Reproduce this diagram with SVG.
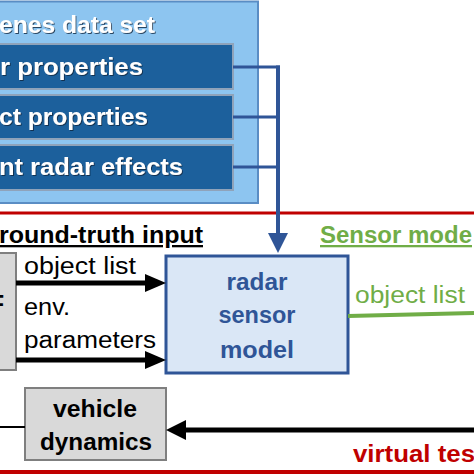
<svg xmlns="http://www.w3.org/2000/svg" width="474" height="474" viewBox="0 0 474 474">
<defs>
<filter id="sh" x="-5%" y="-20%" width="110%" height="140%">
<feDropShadow dx="1" dy="1" stdDeviation="0.6" flood-color="#0a2540" flood-opacity="0.8"/>
</filter>
</defs>
<style>
.f{font-family:"Liberation Sans",Arial,sans-serif}
.wh{fill:#ffffff;font-weight:bold;font-size:23px}
.bk{fill:#000000;font-size:23px}
.bkb{fill:#000000;font-weight:bold;font-size:23px}
.rb{fill:#2F5597;font-weight:bold;font-size:24px}
.outer{fill:#8DC5F0;stroke:#5A8DC4;stroke-width:2}
.inner{fill:#1C609C;stroke:#8FA3BA;stroke-width:2}
.gray{fill:#D9D9D9;stroke:#7F7F7F;stroke-width:2}
.blue{stroke:#2F5597;fill:none}
.blk{stroke:#000000;fill:none}
</style>

<g id="scenes-data-set">
<rect class="outer" x="-10" y="1.5" width="268" height="201.5"/>
<text class="f wh" x="-1" y="33" textLength="156" lengthAdjust="spacingAndGlyphs" filter="url(#sh)">enes data set</text>
</g>
<g id="sensor-properties">
<rect class="inner" x="-10" y="44" width="243" height="45"/>
<text class="f wh" x="0" y="75" textLength="143" lengthAdjust="spacingAndGlyphs" filter="url(#sh)">r properties</text>
</g>
<g id="object-properties">
<rect class="inner" x="-10" y="95" width="243" height="44"/>
<text class="f wh" x="-1" y="125" textLength="149" lengthAdjust="spacingAndGlyphs" filter="url(#sh)">ct properties</text>
</g>
<g id="radar-effects">
<rect class="inner" x="-10" y="145" width="243" height="45"/>
<text class="f wh" x="-1" y="175" textLength="184" lengthAdjust="spacingAndGlyphs" filter="url(#sh)">nt radar effects</text>
</g>

<g id="environment">
<rect class="gray" x="-10" y="253" width="26" height="117"/>
<text class="f bkb" x="-10" y="312" font-size="26px">F</text>
</g>

<g id="radar-sensor-model">
<rect x="166" y="256" width="182" height="117" fill="#DAE7F6" stroke="#2F5597" stroke-width="3"/>
<text class="f rb" x="257" y="290" text-anchor="middle" textLength="61" lengthAdjust="spacingAndGlyphs">radar</text>
<text class="f rb" x="257" y="323" text-anchor="middle" textLength="77" lengthAdjust="spacingAndGlyphs">sensor</text>
<text class="f rb" x="257" y="358" text-anchor="middle" textLength="74" lengthAdjust="spacingAndGlyphs">model</text>
</g>

<g id="vehicle-dynamics">
<rect class="gray" x="25" y="388" width="141" height="72"/>
<text class="f bkb" x="95" y="417" text-anchor="middle" textLength="84" lengthAdjust="spacingAndGlyphs">vehicle</text>
<text class="f bkb" x="96" y="450" text-anchor="middle" textLength="112" lengthAdjust="spacingAndGlyphs">dynamics</text>
</g>

<g id="labels">
<text class="f bkb" x="-1" y="243" textLength="204" lengthAdjust="spacingAndGlyphs" text-decoration="underline">round-truth input</text>
<text class="f" x="320" y="243" fill="#70AD47" font-weight="bold" font-size="23px" textLength="152" lengthAdjust="spacingAndGlyphs" text-decoration="underline">Sensor mode</text>
<text class="f bk" x="24" y="274" textLength="112" lengthAdjust="spacingAndGlyphs">object list</text>
<text class="f bk" x="24" y="315" textLength="46" lengthAdjust="spacingAndGlyphs">env.</text>
<text class="f bk" x="24" y="348" textLength="132" lengthAdjust="spacingAndGlyphs">parameters</text>
<text class="f" x="355" y="303" fill="#70AD47" font-size="23px" textLength="110" lengthAdjust="spacingAndGlyphs">object list</text>
<text class="f" x="353" y="462" fill="#C00000" font-weight="bold" font-size="23px" textLength="122" lengthAdjust="spacingAndGlyphs">virtual tes</text>
</g>

<g id="boundaries">
<line x1="0" y1="213" x2="474" y2="213" stroke="#C00000" stroke-width="3"/>
<line x1="0" y1="472" x2="474" y2="472" stroke="#C00000" stroke-width="4"/>
</g>

<g id="connectors">
<line class="blue" x1="233" y1="67" x2="280" y2="67" stroke-width="3"/>
<line class="blue" x1="233" y1="117" x2="278" y2="117" stroke-width="3"/>
<line class="blue" x1="233" y1="167" x2="278" y2="167" stroke-width="3"/>
<line class="blue" x1="278" y1="65.5" x2="278" y2="236" stroke-width="4"/>
<polygon points="268,233 288,233 278,253" fill="#2F5597"/>

<line class="blk" x1="16" y1="283" x2="147" y2="283" stroke-width="5"/>
<polygon points="145,274 166,283 145,292" fill="#000000"/>
<line class="blk" x1="16" y1="360" x2="147" y2="360" stroke-width="5"/>
<polygon points="145,351 166,360 145,369" fill="#000000"/>

<line x1="348" y1="316" x2="474" y2="313" stroke="#70AD47" stroke-width="4"/>

<line class="blk" x1="0" y1="427" x2="25" y2="427" stroke-width="2"/>
<line class="blk" x1="474" y1="430" x2="184" y2="430" stroke-width="5"/>
<polygon points="186,420 166,430 186,440" fill="#000000"/>
</g>
</svg>
